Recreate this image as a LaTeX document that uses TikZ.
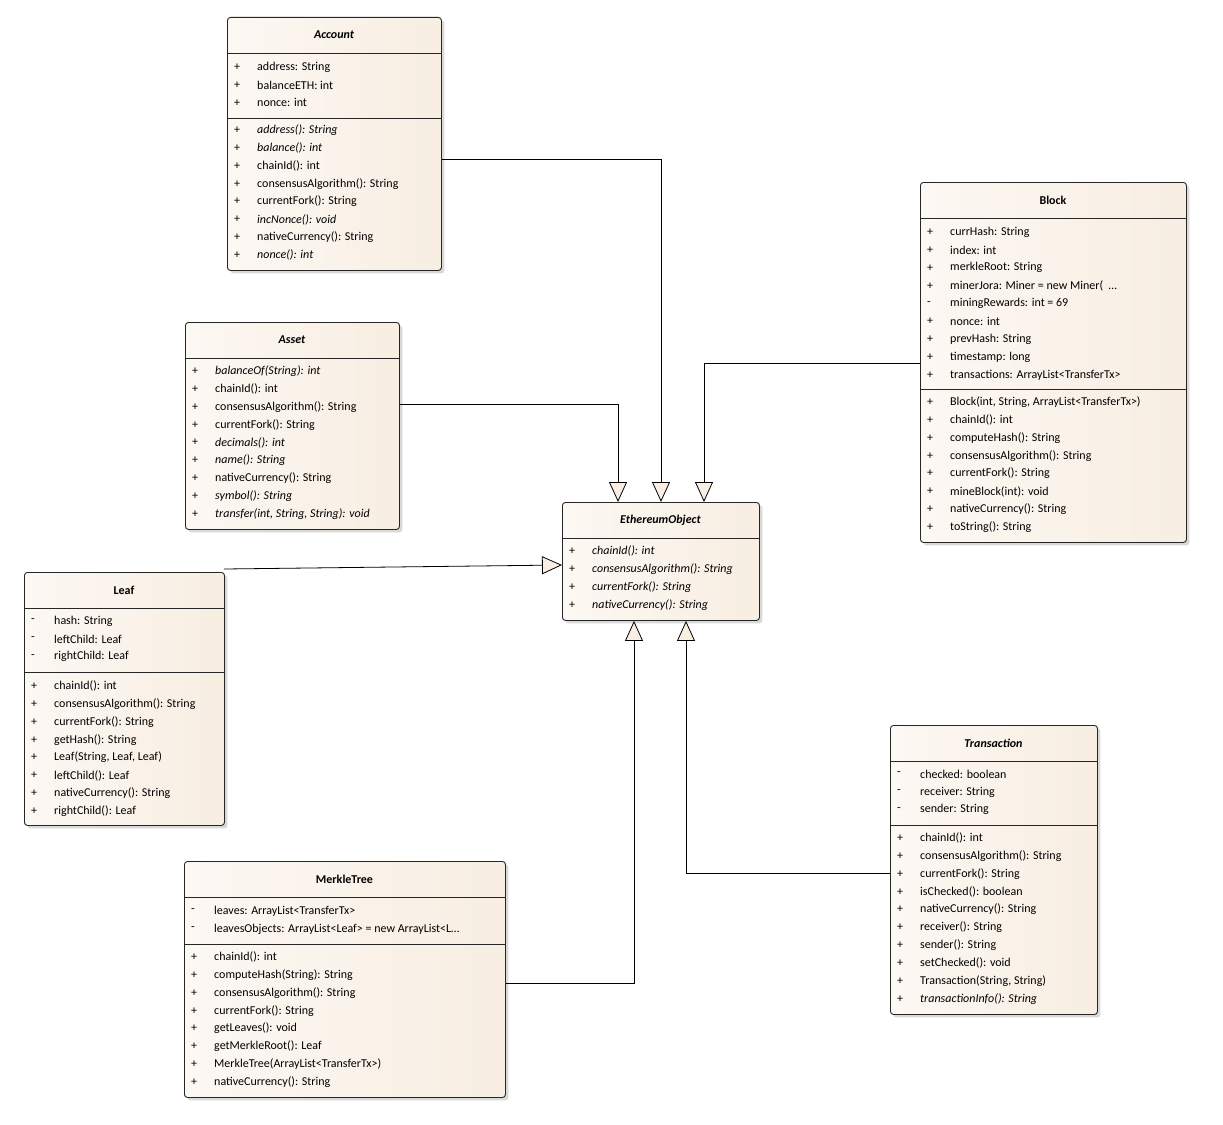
\documentclass[tikz,border=0pt]{standalone}
\usepackage{fontspec}
\setmainfont{Carlito}
\usetikzlibrary{arrows.meta,shadows}
\definecolor{boxfill}{RGB}{248,238,226}
\definecolor{boxfill2}{RGB}{252,248,243}
\tikzset{
 x=1pt,y=-1pt,
 umlbox/.style={draw=black!85,line width=0.9pt,rounded corners=3pt,left color=boxfill2,right color=boxfill,anchor=north west,inner sep=0pt,
   drop shadow={shadow xshift=3pt,shadow yshift=-3pt,fill=black!25,opacity=0.6}},
 rowtxt/.style={anchor=west,inner sep=0pt,font=\fontsize{12}{14}\selectfont},
 ttl/.style={anchor=center,inner sep=0pt,font=\fontsize{12}{14}\selectfont\bfseries},
 gen/.style={line width=0.8pt,-{Triangle[open,length=20pt,width=18pt,fill=boxfill]}},
}
% box: name, x, y, w, h, title
\newcommand\ubox[6]{%
 \node[umlbox,minimum width=#4pt,minimum height=#5pt] (#1) at (#2,#3) {};
 \node[ttl] (#1-t) at (#2+#4/2,#3+18) {#6};
 \draw[line width=0.9pt,black!85] (#2,#3+36) -- (#2+#4,#3+36);}
\newcommand\usep[3]{\draw[line width=0.9pt,black!85] (#1,#2) -- (#1+#3,#2);}
% rows: x, ystart, list
\newcommand\urows[3]{%
 \foreach [count=\i from 0] \s/\t in {#3}{%
  \node[rowtxt] at (#1+7,#2+\i*17.9) {\s};
  \node[rowtxt] at (#1+30,#2+\i*17.9) {\t};}}
\begin{document}
\begin{tikzpicture}
\useasboundingbox (0,0) rectangle (1223,1124);
% Account
\ubox{acc}{227}{17}{214}{253}{\itshape Account}
\usep{227}{118}{214}
\urows{227}{67}{+/address: String,+/balanceETH: int,+/nonce: int}
\urows{227}{130}{+/\itshape address(): String,+/\itshape balance(): int,+/chainId(): int,+/consensusAlgorithm(): String,+/currentFork(): String,+/\itshape incNonce(): void,+/nativeCurrency(): String,+/\itshape nonce(): int}
% Asset
\ubox{ast}{185}{322}{214}{207}{\itshape Asset}
\urows{185}{371}{+/\itshape balanceOf(String): int,+/chainId(): int,+/consensusAlgorithm(): String,+/currentFork(): String,+/\itshape decimals(): int,+/\itshape name(): String,+/nativeCurrency(): String,+/\itshape symbol(): String,{+/\itshape transfer(int, String, String): void}}
% Leaf
\ubox{leaf}{24}{572}{200}{253}{Leaf}
\usep{24}{672}{200}
\urows{24}{621}{-/hash: String,-/leftChild: Leaf,-/rightChild: Leaf}
\urows{24}{686}{+/chainId(): int,+/consensusAlgorithm(): String,+/currentFork(): String,+/getHash(): String,{+/Leaf(String, Leaf, Leaf)},+/leftChild(): Leaf,+/nativeCurrency(): String,+/rightChild(): Leaf}
% MerkleTree
\ubox{mt}{184}{861}{321}{236}{MerkleTree}
\usep{184}{944}{321}
\urows{184}{911}{-/leaves: ArrayList<TransferTx>,-/leavesObjects: ArrayList<Leaf> = new ArrayList<L…}
\urows{184}{957}{+/chainId(): int,+/computeHash(String): String,+/consensusAlgorithm(): String,+/currentFork(): String,+/getLeaves(): void,+/getMerkleRoot(): Leaf,+/MerkleTree(ArrayList<TransferTx>),+/nativeCurrency(): String}
% Block
\ubox{blk}{920}{182}{266}{360}{Block}
\usep{920}{389}{266}
\urows{920}{232}{+/currHash: String,+/index: int,+/merkleRoot: String,+/minerJora: Miner = new Miner(\ \ …,-/miningRewards: int = 69,+/nonce: int,+/prevHash: String,+/timestamp: long,+/transactions: ArrayList<TransferTx>}
\urows{920}{402}{{+/Block(int, String, ArrayList<TransferTx>)},+/chainId(): int,+/computeHash(): String,+/consensusAlgorithm(): String,+/currentFork(): String,+/mineBlock(int): void,+/nativeCurrency(): String,+/toString(): String}
% EthereumObject
\ubox{eo}{562}{502}{197}{118}{\itshape EthereumObject}
\urows{562}{551}{+/\itshape chainId(): int,+/\itshape consensusAlgorithm(): String,+/\itshape currentFork(): String,+/\itshape nativeCurrency(): String}
% Transaction
\ubox{tx}{890}{725}{207}{289}{\itshape Transaction}
\usep{890}{825}{207}
\urows{890}{774}{-/checked: boolean,-/receiver: String,-/sender: String}
\urows{890}{838}{+/chainId(): int,+/consensusAlgorithm(): String,+/currentFork(): String,+/isChecked(): boolean,+/nativeCurrency(): String,+/receiver(): String,+/sender(): String,+/setChecked(): void,{+/Transaction(String, String)},+/\itshape transactionInfo(): String}
% connectors
\draw[gen] ([yshift=-142pt]acc.north east) -| ([xshift=99pt]eo.north west);
\draw[gen] ([yshift=-82pt]ast.north east) -| ([xshift=56pt]eo.north west);
\draw[gen] ([yshift=-181pt]blk.north west) -| ([xshift=142pt]eo.north west);
\draw[gen] ([xshift=200pt,yshift=3pt]leaf.north west) -- ([yshift=-63pt]eo.north west);
\draw[gen] ([yshift=-122pt]mt.north east) -| ([xshift=72pt]eo.south west);
\draw[gen] ([yshift=-148pt]tx.north west) -| ([xshift=124pt]eo.south west);
\end{tikzpicture}
\end{document}
